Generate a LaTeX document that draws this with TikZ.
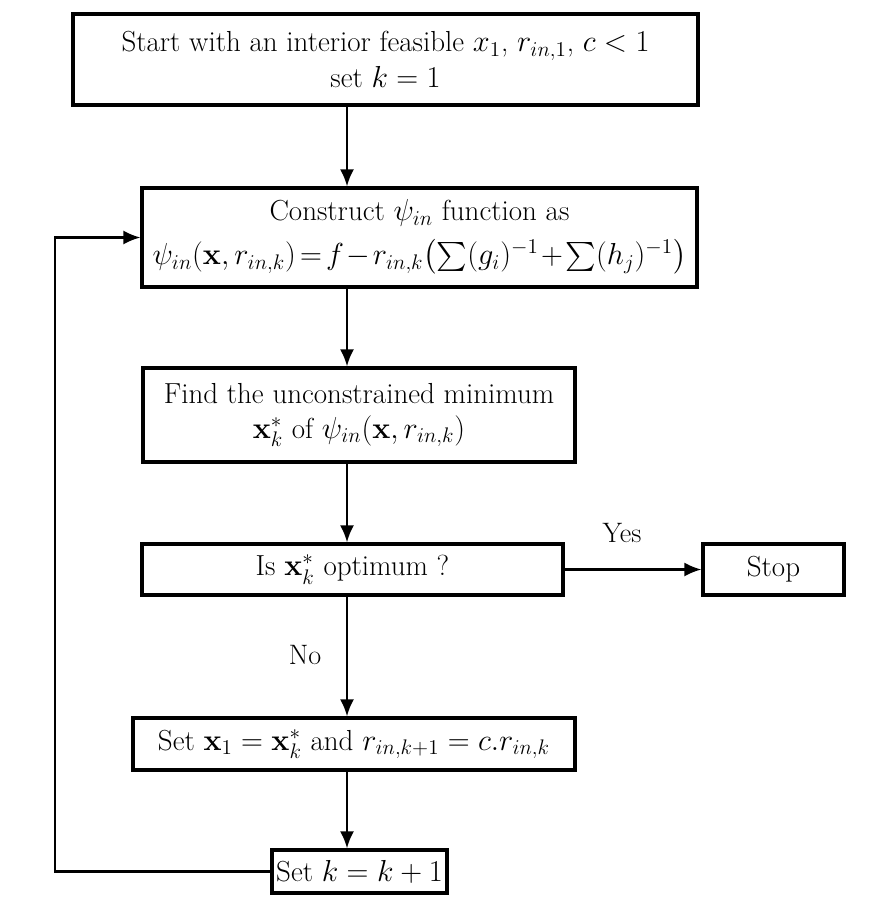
\documentclass[tikz,border=0pt]{standalone}
\usepackage{amsmath,amssymb}
\usepackage{tikz}
\usetikzlibrary{arrows.meta}

\begin{document}
\begin{tikzpicture}[x=0.02cm,y=-0.02cm,
	box/.style={draw, line width=0.65mm, align=center, inner sep=2pt, font=\fontsize{16.5}{20}\selectfont},
	flow/.style={line width=0.45mm, -{Latex[length=3.4mm,width=2.8mm]}},
	lbl/.style={font=\fontsize{16}{19}\selectfont}]
	\useasboundingbox (0,0) rectangle (869,899);
	\coordinate (col) at (347,0);
	\coordinate (back) at (55,0);

	\node[box, minimum width=12.5cm, minimum height=1.82cm] (start) at (385.5,59.5)
		{Start with an interior feasible $x_1$, $r_{in,1}$, $c<1$\\ set $k=1$};
	\node[box, minimum width=11.1cm, minimum height=1.98cm] (constr) at (419.5,237.5)
		{Construct $\psi_{in}$ function as\\[5pt] $\medmuskip=1.5mu\thickmuskip=2.5mu\psi_{in}(\mathbf{x},r_{in,k})=f-r_{in,k}\bigl(\sum(g_i)^{-1}+\sum(h_j)^{-1}\bigr)$};
	\node[box, minimum width=8.64cm, minimum height=1.88cm] (findmin) at (359,415)
		{Find the unconstrained minimum\\ $\mathbf{x}_k^*$ of $\psi_{in}(\mathbf{x},r_{in,k})$};
	\node[box, minimum width=8.42cm, minimum height=1.02cm] (isopt) at (352.5,569.5)
		{Is $\mathbf{x}_k^*$ optimum ?};
	\node[box, minimum width=2.82cm, minimum height=1.02cm] (stop) at (773.5,569.5) {Stop};
	\node[box, minimum width=8.84cm, minimum height=1.04cm] (update) at (354,744)
		{Set $\mathbf{x}_1=\mathbf{x}_k^*$ and $r_{in,k+1}=c.r_{in,k}$};
	\node[box, minimum width=3.5cm, minimum height=0.86cm] (incr) at (359.5,871.5)
		{Set $k=k+1$};

	\node[lbl] (yes) at (622,533) {Yes};
	\node[lbl] (no) at (305,655) {No};

	\draw[flow] (start.south -| col) -- (constr.north -| col);
	\draw[flow] (constr.south -| col) -- (findmin.north -| col);
	\draw[flow] (findmin.south -| col) -- (isopt.north -| col);
	\draw[flow] (isopt.east) -- (stop.west);
	\draw[flow] (isopt.south -| col) -- (update.north -| col);
	\draw[flow] (update.south -| col) -- (incr.north -| col);
	\draw[flow] (incr.west) -- (incr.west -| back) |- (constr.west);
\end{tikzpicture}
\end{document}
